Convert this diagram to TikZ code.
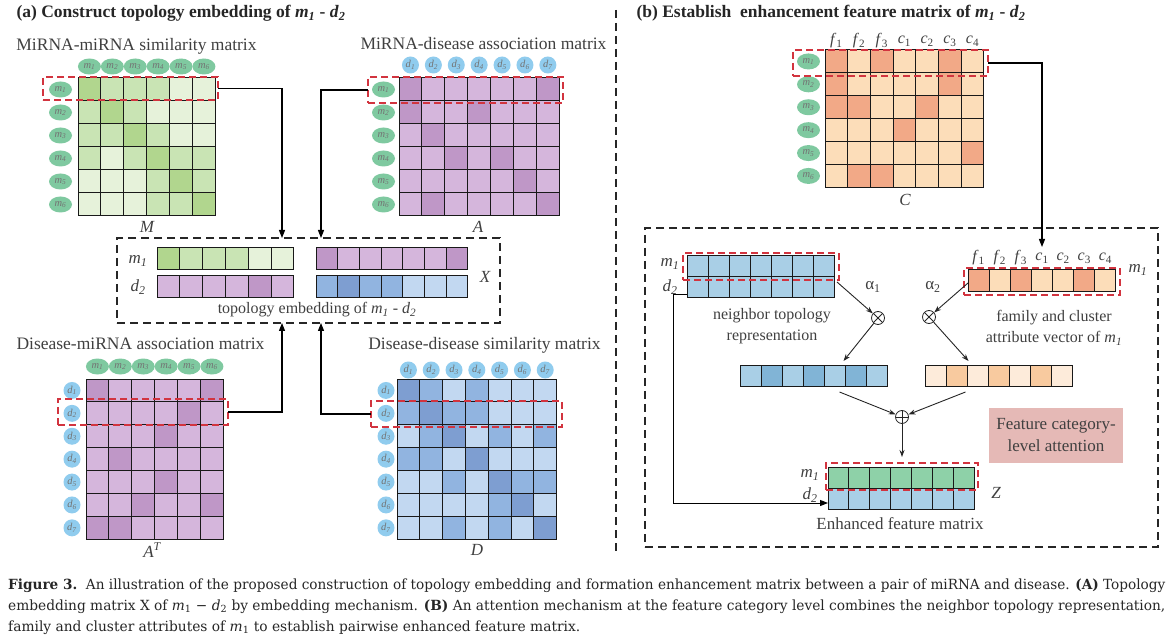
\documentclass[tikz,border=0pt]{standalone}
\usepackage{fontspec}
\setmainfont{Liberation Serif}
\newfontfamily\capfont{DejaVu Serif Condensed}
\usetikzlibrary{arrows.meta,calc,shapes.geometric}
\definecolor{gD}{HTML}{B1D68E}
\definecolor{gM}{HTML}{C9E4B4}
\definecolor{gL}{HTML}{E6F2DA}
\definecolor{pD}{HTML}{BF97C7}
\definecolor{pL}{HTML}{D5B6DC}
\definecolor{bD}{HTML}{7E9ED1}
\definecolor{bM}{HTML}{91B4E0}
\definecolor{bL}{HTML}{C2D8F1}
\definecolor{oD}{HTML}{F2A987}
\definecolor{oL}{HTML}{FCDDB9}
\definecolor{nb}{HTML}{A9CFE6}
\definecolor{nbD}{HTML}{81B4D6}
\definecolor{olL}{HTML}{FDEBDA}
\definecolor{olD}{HTML}{F8CA9F}
\definecolor{zG}{HTML}{8ED1A8}
\definecolor{hG}{HTML}{7FC9A0}
\definecolor{hB}{HTML}{90CCEE}
\definecolor{redd}{HTML}{D2343F}
\definecolor{pinkb}{HTML}{E5B9B6}
\definecolor{txt}{HTML}{404040}
\newcommand\mvar[1]{\textit{m}\textsubscript{\textit{#1}}}
\newcommand\dvar[1]{\textit{d}\textsubscript{\textit{#1}}}
\newcommand\mat[5]{\foreach \rr [count=\jj from 0] in {#5}{\foreach \cc [count=\ii from 0] in \rr {\draw[cellb, fill=\cc] ({#1+\ii*#3},{#2+\jj*#4}) rectangle ++({#3},{#4});}}}
\begin{document}
\begin{tikzpicture}[x=1pt,y=-1pt,
  cellb/.style={draw=black!90, line width=1pt},
  redbox/.style={draw=redd, dash pattern=on 7pt off 4pt, line width=1.4pt, inner sep=0pt, outer sep=0pt},
  blkbox/.style={draw=black!85, dash pattern=on 8pt off 5pt, line width=1.3pt, inner sep=0pt, outer sep=0pt},
  box0/.style={draw=none, inner sep=0pt, outer sep=0pt},
  arr/.style={-{Triangle[length=8pt,width=6pt]}, line width=1.2pt, draw=black},
  arr2/.style={-{Stealth[length=7pt,width=5pt]}, line width=0.9pt, draw=black!85},
  hdrG/.style={ellipse, fill=hG, minimum width=23pt, minimum height=16pt, inner sep=0pt, font=\fontsize{10.5}{10}\selectfont, text=black!55},
  hdrB/.style={circle, fill=hB, minimum size=17pt, inner sep=0pt, font=\fontsize{10.5}{10}\selectfont, text=black!55},
  ttl/.style={font=\fontsize{17.5}{20}\selectfont, text=txt},
  lab/.style={font=\fontsize{17}{20}\selectfont, text=txt},
  sml/.style={font=\fontsize{16}{21}\selectfont, text=txt, align=center},
  otim/.style={circle, draw=black!85, line width=0.8pt, minimum size=13pt, inner sep=0pt,
    path picture={\draw[line width=0.8pt] (path picture bounding box.north west) -- (path picture bounding box.south east) (path picture bounding box.north east) -- (path picture bounding box.south west);}},
  oplus/.style={circle, draw=black!85, line width=0.8pt, minimum size=13pt, inner sep=0pt,
    path picture={\draw[line width=0.8pt] (path picture bounding box.north) -- (path picture bounding box.south) (path picture bounding box.east) -- (path picture bounding box.west);}},
  capn/.style={anchor=base west, inner sep=0pt, font=\capfont\fontsize{14}{18}\selectfont, text=black!85}
]
\useasboundingbox (0,0) rectangle (1170,636);
\fill[white] (0,0) rectangle (1170,636);

% ---------- titles ----------
\node[anchor=base west, font=\fontsize{17.5}{20}\selectfont\bfseries, text=black!85] (ta) at (13,18) {(a) Construct topology embedding of \mvar{1} - \dvar{2}};
\node[anchor=base west, font=\fontsize{17.5}{20}\selectfont\bfseries, text=black!85] (tb) at (633,18) {(b) Establish\ \ enhancement feature matrix of \mvar{1} - \dvar{2}};
\draw[blkbox] (616,10) -- (616,552);

% ---------- M ----------
\node[ttl, anchor=base] (tM) at (136.5,51) {MiRNA-miRNA similarity matrix};
\mat{78}{78}{22.9}{23}{{gD,gM,gM,gM,gL,gL},{gM,gD,gM,gL,gL,gL},{gM,gM,gD,gM,gL,gL},{gM,gL,gM,gD,gM,gM},{gL,gL,gL,gM,gD,gM},{gL,gL,gL,gM,gM,gD}}
\foreach \i in {1,...,6}{
  \node[hdrG] (Mc\i) at ({78+22.9*(\i-0.5)},66.5) {\mvar{\i}};
  \node[hdrG] (Mr\i) at (60.5,{78+23*(\i-0.5)}) {\mvar{\i}};
}
\node[lab, font=\fontsize{17}{20}\selectfont\itshape] (lM) at (147,227) {M};
\node[redbox, minimum width=175pt, minimum height=23pt] (rM) at (130.5,88.5) {};

% ---------- A ----------
\node[ttl, anchor=base] (tA) at (483.5,50) {MiRNA-disease association matrix};
\mat{399}{78}{22.9}{23}{{pD,pL,pL,pL,pL,pL,pD},{pD,pL,pL,pD,pL,pL,pL},{pL,pD,pL,pL,pL,pL,pL},{pL,pL,pD,pL,pD,pL,pL},{pL,pL,pL,pL,pL,pD,pL},{pL,pD,pL,pL,pL,pL,pD}}
\foreach \i in {1,...,7}{
  \node[hdrB] (Ac\i) at ({399+22.9*(\i-0.5)},65) {\dvar{\i}};
}
\foreach \i in {1,...,6}{
  \node[hdrG] (Ar\i) at (383.5,{78+23*(\i-0.5)}) {\mvar{\i}};
}
\node[lab, font=\fontsize{17}{20}\selectfont\itshape] (lA) at (478,227) {A};
\node[redbox, minimum width=195pt, minimum height=26pt] (rA) at (465.5,90) {};

% ---------- A^T ----------
\node[ttl, anchor=base] (tAT) at (140.5,349) {Disease-miRNA association matrix};
\mat{86}{379}{22.9}{22.9}{{pD,pL,pL,pL,pL,pD},{pL,pL,pL,pL,pD,pL},{pL,pL,pL,pD,pL,pL},{pL,pD,pL,pL,pL,pL},{pL,pL,pL,pD,pL,pL},{pL,pL,pD,pL,pL,pD},{pD,pD,pL,pL,pL,pL}}
\foreach \i in {1,...,6}{
  \node[hdrG] (ATc\i) at ({86+22.9*(\i-0.5)},366.5) {\mvar{\i}};
}
\foreach \i in {1,...,7}{
  \node[hdrB] (ATr\i) at (72,{379+22.9*(\i-0.5)}) {\dvar{\i}};
}
\node[lab, font=\fontsize{17}{20}\selectfont\itshape] (lAT) at (152,550) {A\textsuperscript{\textit{T}}};
\node[redbox, minimum width=170pt, minimum height=26pt] (rAT) at (143,412) {};

% ---------- D ----------
\node[ttl, anchor=base] (tD) at (484.5,349) {Disease-disease similarity matrix};
\mat{397}{379}{22.8}{22.9}{{bD,bM,bL,bM,bL,bL,bL},{bM,bD,bM,bM,bL,bL,bL},{bL,bM,bD,bL,bM,bL,bM},{bM,bM,bL,bD,bL,bL,bL},{bL,bL,bM,bL,bD,bM,bM},{bL,bL,bL,bL,bM,bD,bL},{bL,bL,bM,bL,bM,bL,bD}}
\foreach \i in {1,...,7}{
  \node[hdrB] (Dc\i) at ({397+22.8*(\i-0.5)},370) {\dvar{\i}};
  \node[hdrB] (Dr\i) at (386,{379+22.9*(\i-0.5)}) {\dvar{\i}};
}
\node[lab, font=\fontsize{17}{20}\selectfont\itshape] (lD) at (477,550) {D};
\node[redbox, minimum width=191pt, minimum height=26pt] (rD) at (466.5,414) {};

% ---------- X ----------
\node[blkbox, minimum width=383pt, minimum height=85pt] (Xbox) at (308.5,280.5) {};
\mat{157}{248}{22.83}{22}{{gD,gM,gM,gM,gL,gL}}
\mat{316}{248}{21.7}{22}{{pD,pL,pL,pL,pL,pL,pD}}
\mat{157}{276}{22.83}{22}{{pL,pL,pL,pL,pD,pL}}
\mat{316}{276}{21.7}{22}{{bM,bD,bM,bM,bL,bL,bL}}
\node[lab] (Xm) at (138,261) {\mvar{1}};
\node[lab] (Xd) at (138,287) {\dvar{2}};
\node[lab, font=\fontsize{17}{20}\selectfont\itshape] (lX) at (485,277) {X};
\node[sml] (Xt) at (317,310) {topology embedding of \mvar{1} - \dvar{2}};
\coordinate (xa) at (282,238);
\coordinate (xb) at (321,238);
\coordinate (xc) at (282,323);
\coordinate (xd) at (321,323);
\draw[arr] (rM.east) -| (xa);
\draw[arr] (rA.west) -| (xb);
\draw[arr] (rAT.east) -| (xc);
\draw[arr] (rD.west) -| (xd);

% ---------- C ----------
\mat{825}{50}{22.7}{22.9}{{oD,oL,oD,oL,oL,oD,oL},{oD,oL,oL,oL,oL,oD,oL},{oD,oD,oL,oL,oD,oL,oL},{oL,oL,oL,oD,oL,oL,oL},{oL,oL,oL,oL,oL,oL,oD},{oL,oD,oD,oL,oL,oL,oL}}
\foreach \t [count=\i] in {\textit{f}\textsubscript{1},\textit{f}\textsubscript{2},\textit{f}\textsubscript{3},\textit{c}\textsubscript{1},\textit{c}\textsubscript{2},\textit{c}\textsubscript{3},\textit{c}\textsubscript{4}}{
  \node[lab, font=\fontsize{16}{18}\selectfont] (Cc\i) at ({825+22.7*(\i-0.5)},41) {\t};
}
\foreach \i in {1,...,6}{
  \node[hdrG] (Cr\i) at (808.5,{50+22.9*(\i-0.5)}) {\mvar{\i}};
}
\node[lab, font=\fontsize{17}{20}\selectfont\itshape] (lC) at (905,200) {C};
\node[redbox, minimum width=195pt, minimum height=26pt] (rC) at (890.5,63) {};

% ---------- panel b box ----------
\node[blkbox, minimum width=513pt, minimum height=319pt] (Bbox) at (901.5,387.5) {};
\coordinate (cin) at (1042,247);
\draw[arr] (rC.east) -| (cin);

% neighbor topology
\mat{687}{256}{21.14}{21}{{nb,nb,nb,nb,nb,nb,nb},{nb,nb,nb,nb,nb,nb,nb}}
\node[box0, minimum width=148pt, minimum height=42pt] (nbr) at (761,277) {};
\node[redbox, minimum width=156pt, minimum height=27pt] (rN) at (761,266.5) {};
\node[lab] (nm) at (670,264) {\mvar{1}};
\node[lab] (nd) at (670,287) {\dvar{2}};
\node[sml] (nbrt) at (772,326) {neighbor topology\\representation};

% family/cluster vector
\foreach \t [count=\i] in {\textit{f}\textsubscript{1},\textit{f}\textsubscript{2},\textit{f}\textsubscript{3},\textit{c}\textsubscript{1},\textit{c}\textsubscript{2},\textit{c}\textsubscript{3},\textit{c}\textsubscript{4}}{
  \node[lab, font=\fontsize{16}{18}\selectfont] (Oc\i) at ({968+21.14*(\i-0.5)},258) {\t};
}
\mat{968}{270}{21.14}{22}{{oD,oL,oD,oL,oL,oD,oL}}
\node[box0, minimum width=148pt, minimum height=22pt] (ovec) at (1042,281) {};
\node[redbox, minimum width=156pt, minimum height=27pt] (rO) at (1042,281.5) {};
\node[lab] (om) at (1138,270) {\mvar{1}};
\node[sml] (ovt) at (1054,328) {family and cluster\\attribute vector of \mvar{1}};

% alpha and operators
\node[lab] (al1) at (873,287) {α\textsubscript{1}};
\node[lab] (al2) at (933,287) {α\textsubscript{2}};
\node[otim] (otA) at (878,318) {};
\node[otim] (otB) at (929,317) {};

% weighted vectors
\mat{740}{365}{21}{21}{{nb,nbD,nb,nbD,nb,nbD,nb}}
\node[box0, minimum width=147pt, minimum height=21pt] (bvec) at (813.5,375.5) {};
\mat{925}{365}{21}{21}{{olL,olD,olL,olD,olL,olD,olL}}
\node[box0, minimum width=147pt, minimum height=21pt] (olvec) at (998.5,375.5) {};
\node[oplus] (opl) at (902,417) {};

\draw[arr2] ([xshift=2pt,yshift=-5pt]nbr.east) -- (otA);
\draw[arr2] (otA) -- ($(bvec.north)+(30,-4)$);
\draw[arr2] ([yshift=-2pt]ovec.west) -- (otB);
\draw[arr2] (otB) -- ($(olvec.north)+(-30,-4)$);
\draw[arr2] ($(bvec.south)+(26,6)$) -- (opl);
\draw[arr2] ($(olvec.south)+(-33,6)$) -- (opl);

% feature category box
\node[fill=pinkb, minimum width=134pt, minimum height=55pt, align=center, font=\fontsize{17}{22}\selectfont, text=txt] (fca) at (1056,435.5) {Feature category-\\level attention};

% Z
\mat{828}{467}{20.86}{21}{{zG,zG,zG,zG,zG,zG,zG},{nb,nb,nb,nb,nb,nb,nb}}
\node[box0, minimum width=146pt, minimum height=42pt] (Zm) at (901,488) {};
\node[redbox, minimum width=152pt, minimum height=27pt] (rZ) at (902,476.5) {};
\node[lab] (zm1) at (810,475) {\mvar{1}};
\node[lab] (zd2) at (810,495) {\dvar{2}};
\node[lab, font=\fontsize{17}{20}\selectfont\itshape] (lZ) at (996,493) {Z};
\node[lab] (Zt) at (900,524) {Enhanced feature matrix};
\draw[arr2] (opl) -- ($(Zm.north)+(1,-10)$);
\draw[arr, line width=1pt] ([yshift=-18pt]nbr.west) -- ++(-14,0) |- ([yshift=-15pt]Zm.west);

% ---------- caption ----------
\node[capn] (cap1) at (8,589) {\resizebox{1157pt}{\height}{\textbf{Figure 3.}\ \ An illustration of the proposed construction of topology embedding and formation enhancement matrix between a pair of miRNA and disease. \textbf{(A)} Topology}};
\node[capn] (cap2) at (8,610) {\resizebox{1157pt}{\height}{embedding matrix X of \textit{m}\textsubscript{1} − \textit{d}\textsubscript{2} by embedding mechanism. \textbf{(B)} An attention mechanism at the feature category level combines the neighbor topology representation,}};
\node[capn] (cap3) at (8,631) {\resizebox{572pt}{\height}{family and cluster attributes of \textit{m}\textsubscript{1} to establish pairwise enhanced feature matrix.}};
\end{tikzpicture}
\end{document}
